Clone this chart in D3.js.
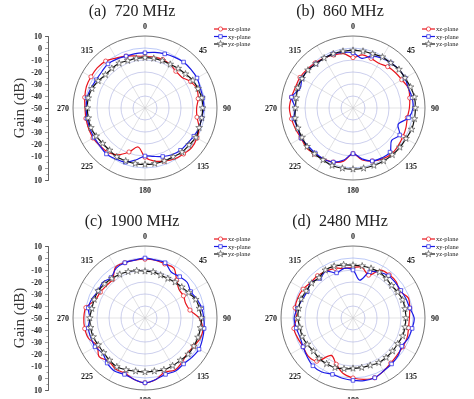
<!DOCTYPE html>
<html>
<head>
<meta charset="utf-8">
<script src="https://cdn.jsdelivr.net/npm/d3@7"></script>
<style>
  body { margin: 0; background: #fff; }
  svg { display: block; will-change: transform; }
  text { font-family: "Liberation Serif", "Times New Roman", serif; }
</style>
</head>
<body>
<div id="chart"></div>
<script>
// measured angles (deg, clockwise from top)
const angles = [0,10,20,30,40,50,60,70,80,90,100,110,120,130,140,150,160,170,
                180,190,200,210,220,230,240,250,260,270,280,290,300,310,320,330,340,350]
const angleLabels = [0, 45, 90, 135, 180, 225, 270, 315]
const gridLevels = [-40, -30, -20, -10, 0]
const axisLabels = [10, 0, -10, -20, -30, -40, -50]
const planes = ['xz-plane', 'xy-plane', 'yz-plane']

// gain in dB, one value per angle
const a720_xz = [-7,-7,-7,-8,-10,-10,-6,-4,-5,-7,-6,-2,0,1,0,-1,-3,-5,-9,-17,-11,-5,-2,-1,0,0,0,0,1,2,2,2,1,-2,-4,-6]
const a720_xy = [-4,-3,-2,-1,0,0,0,-1,-1,-1,-2,-2,-3,-4,-4,-5,-7,-9,-10,-6,-2,-1,0,-1,-1,-1,-1,-1,-1,-2,-3,-3,-2,-3,-4,-4]
const a720_yz = [-8,-8,-8,-8,-7,-6,-4,-3,-2,-2,-2,-2,-1,-2,-2,-3,-3,-3,-3,-3,-3,-3,-4,-4,-3,-2,-2,-2,-2,-3,-5,-7,-7,-7,-8,-8]

const b860_xz = [-8,-5,-6,-7,-5,-4,-3,-1,-2,-3,-4,-3,-2,-1,0,-1,-3,-6,-12,-5,-2,-1,0,1,0,1,2,3,2,1,1,0,-1,-2,-3,-4]
const b860_xy = [-4,-8,-4,-2,-1,0,0,-1,0,0,-3,-10,-5,-8,-2,-2,-3,-7,-12,-6,-2,-1,-1,-1,0,-1,0,-2,2,-3,-1,-1,-2,-2,-2,-3]
const b860_yz = [-2,-2,-2,-1,-1,0,0,1,2,2,2,2,1,1,1,1,1,1,1,1,1,0,0,0,-1,-1,-1,-2,-2,-1,-1,-1,-2,-2,-2,-2]

const c1900_xz = [-1,-1,-2,-2,-9,-13,-13,-14,-12,-5,-1,-1,-3,-4,-2,0,-2,2,4,2,-1,-1,-3,0,-4,0,1,1,0,-6,-7,-8,-8,-1,-1,-1]
const c1900_xy = [0,-1,-1,-6,-5,-4,-6,-4,-2,-1,0,1,2,1,0,1,0,2,4,2,0,1,-1,-4,-2,-2,-2,-4,-2,-3,-5,-4,-6,-2,-1,-1]
const c1900_yz = [-11,-11,-12,-12,-11,-10,-8,-5,-4,-3,-3,-3,-3,-3,-4,-4,-4,-5,-5,-5,-4,-3,-4,-5,-5,-4,-4,-4,-5,-5,-5,-6,-7,-8,-9,-10]

const d2480_xz = [-8,-7,-12,-4,-3,-3,-5,-1,-2,-3,-3,-2,-2,-2,-1,1,3,2,0,-3,-9,-14,-3,-1,-2,-1,0,-3,-1,-1,-2,-4,-4,-5,-6,-8]
const d2480_xy = [-10,-18,-9,-6,-4,-4,-4,-3,-2,1,0,-1,-3,-1,0,1,3,3,2,1,0,2,2,0,-2,-3,-2,-1,-3,-5,-6,-4,-7,-5,-10,-8]
const d2480_yz = [-6,-6,-6,-6,-7,-8,-7,-6,-6,-6,-6,-6,-7,-7,-7,-7,-8,-8,-8,-7,-6,-6,-6,-7,-6,-5,-5,-4,-4,-4,-5,-5,-6,-4,-4,-5]

const panels = [
  {title: '(a)  720 MHz',  cx: 145, cy: 108, yAxis: true,  series: [a720_xz, a720_xy, a720_yz]},
  {title: '(b)  860 MHz',  cx: 353, cy: 108, yAxis: false, series: [b860_xz, b860_xy, b860_yz]},
  {title: '(c)  1900 MHz', cx: 145, cy: 318, yAxis: true,  series: [c1900_xz, c1900_xy, c1900_yz]},
  {title: '(d)  2480 MHz', cx: 353, cy: 318, yAxis: false, series: [d2480_xz, d2480_xy, d2480_yz]}
]

const width = 474, height = 399
const R = 72
const colors = ['#e8141c', '#1b1be6', '#111111']
const markerStroke = ['#e8141c', '#1b1be6', '#555555']

const r = d3.scaleLinear().domain([-50, 10]).range([0, R])
const a = d3.scaleLinear().domain([0, 360]).range([0, 2 * Math.PI])

const svg = d3.select('#chart').append('svg')
    .attr('width', width)
    .attr('height', height)
svg.append('rect').attr('width', width).attr('height', height).attr('fill', '#fff')

const star = d3.symbol().type(d3.symbolStar).size(14)
const square = d3.symbol().type(d3.symbolSquare).size(13)
const circ = d3.symbol().type(d3.symbolCircle).size(14)
const symbols = [circ, square, star]

panels.forEach(p => {
    svg.append('text')
        .attr('x', p.cx - 13)
        .attr('y', p.cy - 92)
        .attr('text-anchor', 'middle')
        .style('font-size', '16px')
        .style('white-space', 'pre')
        .style('fill', '#222')
        .text(p.title)

    let g = svg.append('g').attr('transform', `translate(${p.cx},${p.cy})`)

    // spokes every 30 deg
    g.selectAll('line.spoke')
        .data(d3.range(0, 360, 30))
      .enter().append('line')
        .attr('x1', 0).attr('y1', 0)
        .attr('x2', d => r(10) * Math.sin(a(d)))
        .attr('y2', d => -r(10) * Math.cos(a(d)))
        .attr('stroke', '#c4c4c8')
        .attr('stroke-width', 0.5)

    g.selectAll('circle.grid')
        .data(gridLevels)
      .enter().append('circle')
        .attr('r', d => r(d))
        .attr('fill', 'none')
        .attr('stroke', d => d === 0 ? '#8ea4f2' : '#a9afe0')
        .attr('stroke-width', 0.6)

    g.append('circle')
        .attr('r', r(10))
        .attr('fill', 'none')
        .attr('stroke', '#666')
        .attr('stroke-width', 0.9)

    g.selectAll('text.ang')
        .data(angleLabels)
      .enter().append('text')
        .attr('x', d => Math.round((R + 10) * Math.sin(a(d))))
        .attr('y', d => Math.round(-(R + 10) * Math.cos(a(d))))
        .attr('dy', '0.35em')
        .attr('text-anchor', 'middle')
        .style('font-size', '8px')
        .style('font-weight', 'bold')
        .style('fill', '#1a1a1a')
        .text(d => d)

    let line = d3.lineRadial()
        .angle((d, i) => a(angles[i]))
        .radius(d => r(d))
        .curve(d3.curveCatmullRomClosed.alpha(0.5))

    p.series.forEach((s, k) => {
        g.append('path')
            .datum(s)
            .attr('d', line)
            .attr('fill', 'none')
            .attr('stroke', colors[k])
            .attr('stroke-width', 1.2)
        let step = k === 2 ? 1 : 2
        g.selectAll('path.m' + k)
            .data(s.filter((d, i) => i % step === 0).map((d, i) => [angles[i * step], d]))
          .enter().append('path')
            .attr('transform', d => `translate(${r(d[1]) * Math.sin(a(d[0]))},${-r(d[1]) * Math.cos(a(d[0]))})`)
            .attr('d', symbols[k])
            .attr('fill', '#fff')
            .attr('stroke', markerStroke[k])
            .attr('stroke-width', 0.7)
    })

    // legend
    let lg = g.append('g').attr('transform', `translate(${R - 3},${-R - 7})`)
    planes.forEach((name, k) => {
        let y = k * 7.5
        lg.append('line')
            .attr('x1', 0).attr('x2', 13)
            .attr('y1', y).attr('y2', y)
            .attr('stroke', colors[k])
            .attr('stroke-width', 1.2)
        lg.append('path')
            .attr('transform', `translate(6.5,${y})`)
            .attr('d', symbols[k])
            .attr('fill', '#fff')
            .attr('stroke', markerStroke[k])
            .attr('stroke-width', 0.7)
        lg.append('text')
            .attr('x', 14)
            .attr('y', y)
            .attr('dy', '0.35em')
            .style('font-size', '6.5px')
            .style('fill', '#222')
            .text(name)
    })

    if (p.yAxis) {
        let ax = 48
        let top = d3.scaleLinear().domain([-50, 10]).range([p.cy, p.cy - R])
        let bot = d3.scaleLinear().domain([-50, 10]).range([p.cy, p.cy + R])
        let fmt = d => String(d)
        svg.append('g')
            .attr('transform', `translate(${ax},0)`)
            .call(d3.axisLeft(top).tickValues(axisLabels).tickSize(3).tickFormat(fmt))
        svg.append('g')
            .attr('transform', `translate(${ax},0)`)
            .call(d3.axisLeft(bot).tickValues(axisLabels.slice(0, -1)).tickSize(3).tickFormat(fmt))
        svg.append('g')
            .attr('transform', `translate(${ax},0)`)
            .call(d3.axisLeft(top).tickValues([5, -5, -15, -25, -35, -45]).tickSize(1.5).tickFormat(''))
        svg.append('g')
            .attr('transform', `translate(${ax},0)`)
            .call(d3.axisLeft(bot).tickValues([5, -5, -15, -25, -35, -45]).tickSize(1.5).tickFormat(''))
        svg.selectAll('.domain').attr('stroke', '#555').attr('stroke-width', 0.7)
        svg.selectAll('.tick line').attr('stroke', '#555').attr('stroke-width', 0.6)
        svg.selectAll('.tick text')
            .style('font-family', '"Liberation Serif", serif')
            .style('font-size', '8px')
            .style('font-weight', 'bold')
            .style('fill', '#222')

        svg.append('text')
            .attr('transform', `translate(24,${p.cy}) rotate(-90)`)
            .attr('text-anchor', 'middle')
            .style('font-size', '15px')
            .style('fill', '#333')
            .text('Gain (dB)')
    }
})
</script>
</body>
</html>
